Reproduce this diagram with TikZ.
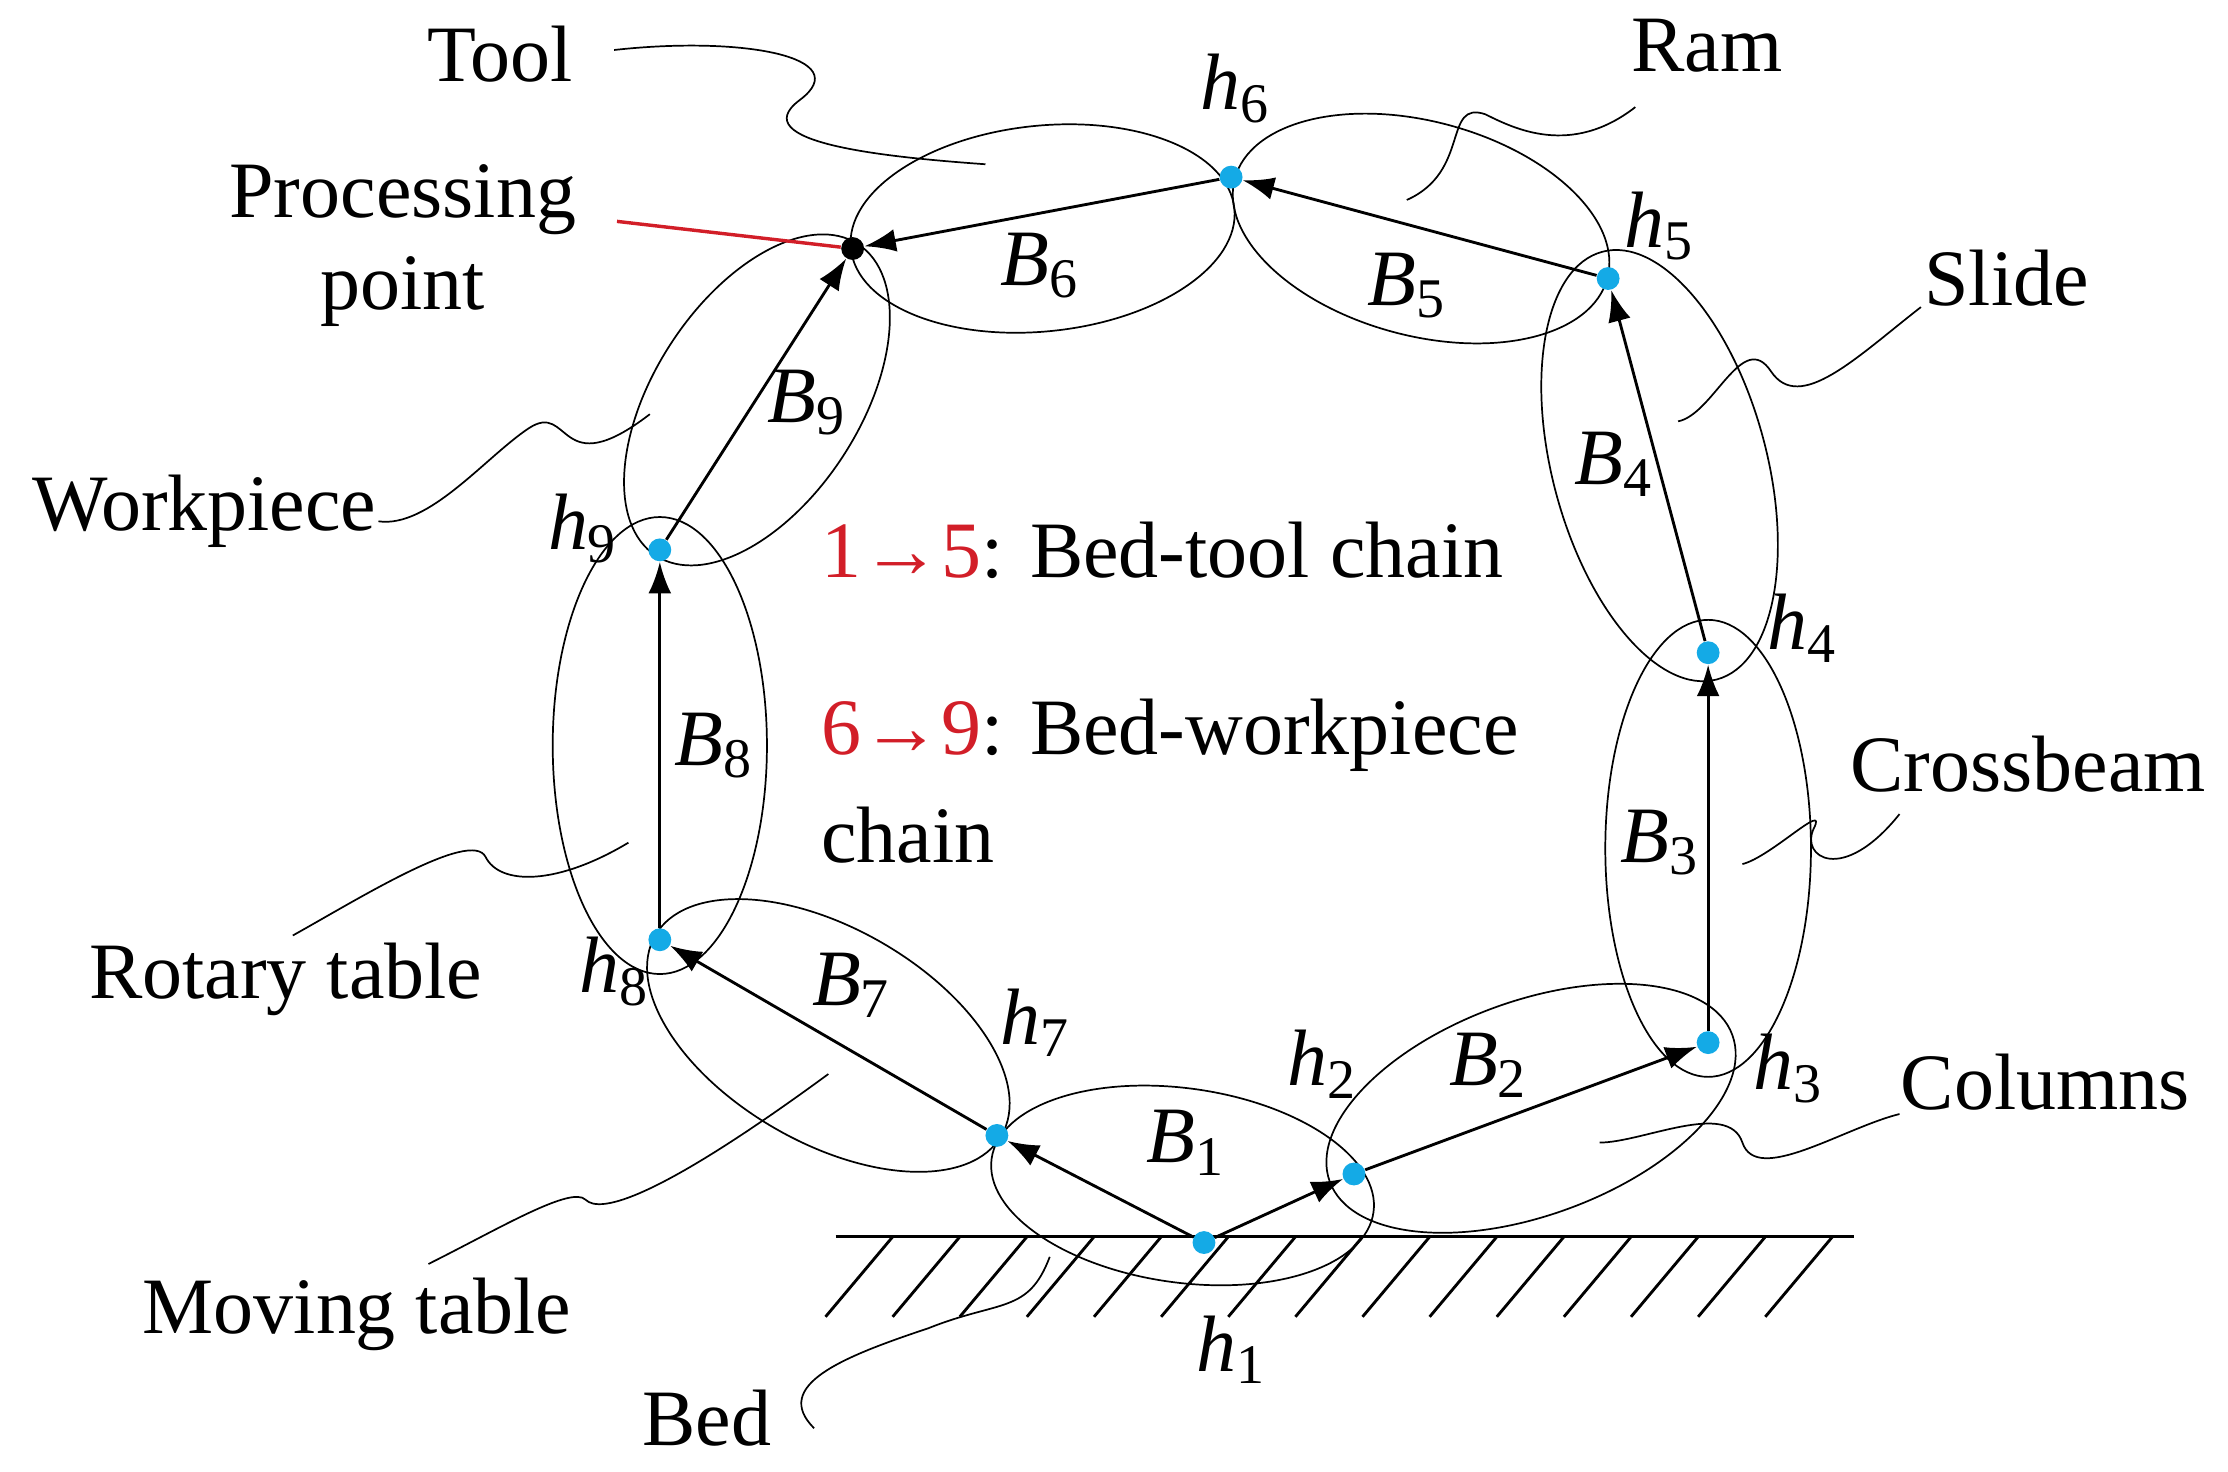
\documentclass[tikz,border=0pt]{standalone}
\usepackage{fontspec}
\setmainfont{Liberation Serif}
\usetikzlibrary{arrows.meta}
\definecolor{dotc}{RGB}{20,170,230}
\definecolor{redc}{RGB}{210,30,40}
\begin{document}
\begin{tikzpicture}[x=0.5pt,y=-0.5pt,
  pt/.style={circle,fill=dotc,inner sep=0pt,minimum size=8pt},
  arr/.style={-{Latex[length=11pt,width=8pt]},line width=1pt},
  ell/.style={line width=0.6pt},
  lead/.style={line width=0.6pt},
  txt/.style={font=\fontsize{28}{32}\selectfont},
  lab/.style={font=\fontsize{28}{32}\selectfont\itshape}]
\useasboundingbox (0,0) rectangle (1560,1030);
% ellipses
\draw[ell,shift={(828,830)},rotate=-8] (0,0) ellipse [x radius=135,y radius=68];
\draw[ell,shift={(1072,776)},rotate=20] (0,0) ellipse [x radius=150,y radius=75];
\draw[ell,shift={(1196,594)}] (0,0) ellipse [x radius=72,y radius=160];
\draw[ell,shift={(1162,326)},rotate=-75] (0,0) ellipse [x radius=155,y radius=75];
\draw[ell,shift={(995,160)},rotate=-15] (0,0) ellipse [x radius=135,y radius=75];
\draw[ell,shift={(730,160)},rotate=6] (0,0) ellipse [x radius=135,y radius=72];
\draw[ell,shift={(530,280)},rotate=57] (0,0) ellipse [x radius=130,y radius=72];
\draw[ell,shift={(462,522)}] (0,0) ellipse [x radius=75,y radius=160];
\draw[ell,shift={(580,725)},rotate=-30] (0,0) ellipse [x radius=140,y radius=75];
% ground
\draw[line width=1pt] (585,866) -- (1298,866);
\foreach \x in {625,672,719,766,813,860,907,954,1001,1048,1095,1142,1189,1236,1283}
  \draw[line width=1pt] (\x,866) -- (\x-47,922);
% points
\node[pt] (h1) at (843,870) {};
\node[pt] (h2) at (948,822) {};
\node[pt] (h3) at (1196,730) {};
\node[pt] (h4) at (1196,457) {};
\node[pt] (h5) at (1126,195) {};
\node[pt] (h6) at (862,124) {};
\node[circle,fill=black,inner sep=0pt,minimum size=8pt] (p) at (597,174) {};
\node[pt] (h9) at (462,385) {};
\node[pt] (h8) at (462,658) {};
\node[pt] (h7) at (698,795) {};
\draw[arr] (h1) -- (h2);
\draw[arr] (h2) -- (h3);
\draw[arr] (h3) -- (h4);
\draw[arr] (h4) -- (h5);
\draw[arr] (h5) -- (h6);
\draw[arr] (h6) -- (p);
\draw[arr] (h1) -- (h7);
\draw[arr] (h7) -- (h8);
\draw[arr] (h8) -- (h9);
\draw[arr] (h9) -- (p);
% h labels
\node[lab] (lh6) at (865,62) {h\textsubscript{\upshape 6}};
\node[lab] (lh5) at (1162,158) {h\textsubscript{\upshape 5}};
\node[lab] (lh4) at (1262,440) {h\textsubscript{\upshape 4}};
\node[lab] (lh3) at (1252,748) {h\textsubscript{\upshape 3}};
\node[lab] (lh2) at (926,745) {h\textsubscript{\upshape 2}};
\node[lab] (lh7) at (725,716) {h\textsubscript{\upshape 7}};
\node[lab] (lh8) at (430,680) {h\textsubscript{\upshape 8}};
\node[lab] (lh9) at (408,370) {h\textsubscript{\upshape 9}};
\node[lab] (lh1) at (862,945) {h\textsubscript{\upshape 1}};
% B labels
\node[lab] (b6) at (728,186) {B\textsubscript{\upshape 6}};
\node[lab] (b5) at (985,200) {B\textsubscript{\upshape 5}};
\node[lab] (b4) at (1130,325) {B\textsubscript{\upshape 4}};
\node[lab] (b3) at (1162,590) {B\textsubscript{\upshape 3}};
\node[lab] (b2) at (1042,746) {B\textsubscript{\upshape 2}};
\node[lab] (b1) at (830,800) {B\textsubscript{\upshape 1}};
\node[lab] (b7) at (596,690) {B\textsubscript{\upshape 7}};
\node[lab] (b8) at (500,522) {B\textsubscript{\upshape 8}};
\node[lab] (b9) at (565,282) {B\textsubscript{\upshape 9}};
% center texts
\node[txt,anchor=west] (c1) at (568,385) {\textcolor{redc}{1→5}: Bed-tool chain};
\node[txt,anchor=west] (c2) at (568,515) {\textcolor{redc}{6→9}: Bed-workpiece};
\node[txt,anchor=west] (c3) at (568,585) {chain};
% part labels
\node[txt] (tool) at (350,38) {Tool};
\node[txt] (ram) at (1195,32) {Ram};
\node[txt,align=center] (proc) at (282,172) {Processing\\point};
\node[txt] (slide) at (1405,195) {Slide};
\node[txt] (work) at (143,358) {Workpiece};
\node[txt] (cross) at (1420,535) {Crossbeam};
\node[txt] (rot) at (200,686) {Rotary table};
\node[txt] (col) at (1432,758) {Columns};
\node[txt] (mov) at (250,920) {Moving table};
\node[txt] (bed) at (495,993) {Bed};
\draw[redc,line width=1.2pt] (432,155) -- (p);
% leaders
\draw[lead] (430,35) .. controls (520,25) and (600,40) .. (560,70) .. controls (520,100) and (620,110) .. (690,115);
\draw[lead] (1145,75) .. controls (1100,110) and (1060,90) .. (1040,80) .. controls (1010,70) and (1030,120) .. (985,140);
\draw[lead] (1345,215) .. controls (1300,250) and (1260,290) .. (1240,260) .. controls (1220,230) and (1200,290) .. (1175,295);
\draw[lead] (265,365) .. controls (300,370) and (340,320) .. (370,300) .. controls (400,280) and (390,340) .. (455,290);
\draw[lead] (1330,570) .. controls (1290,620) and (1260,600) .. (1270,580) .. controls (1280,560) and (1240,600) .. (1220,605);
\draw[lead] (205,655) .. controls (250,630) and (330,580) .. (340,600) .. controls (350,620) and (390,620) .. (440,590);
\draw[lead] (1330,780) .. controls (1290,790) and (1230,830) .. (1220,800) .. controls (1210,770) and (1150,800) .. (1120,800);
\draw[lead] (300,885) .. controls (350,860) and (400,830) .. (410,840) .. controls (420,850) and (460,840) .. (580,752);
\draw[lead] (570,1000) .. controls (540,970) and (590,950) .. (650,930) .. controls (700,910) and (720,920) .. (735,880);
\end{tikzpicture}
\end{document}
